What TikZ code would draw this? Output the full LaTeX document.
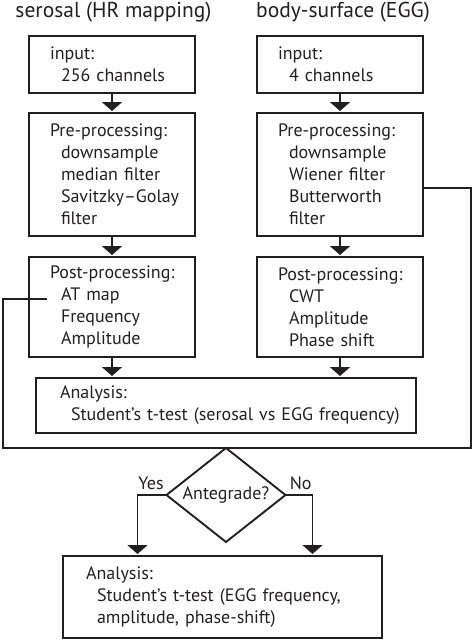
\documentclass[tikz,border=0pt]{standalone}
\usepackage{fontspec}
\setmainfont{PT Sans}
\usetikzlibrary{arrows.meta, positioning, shapes.geometric, calc}
\definecolor{ink}{HTML}{231F20}
\newcommand{\ttl}[1]{\mbox{#1}}
\newcommand{\itm}[1]{\hspace*{11pt}\mbox{#1}}
\tikzset{
  box/.style={
    draw=ink,
    line width=1.9pt,
    align=left,
    inner xsep=21pt,
    inner ysep=0pt,
    outer sep=0pt,
    text=ink,
    font=\fontsize{18}{22}\selectfont
  },
  col/.style={box, text width=124pt, minimum width=166pt},
  head/.style={text=ink, inner sep=0pt, font=\fontsize{21.5}{25}\selectfont},
  decision/.style={diamond, draw=ink, line width=1.9pt, aspect=1.27, outer sep=0pt,
    minimum width=119pt, minimum height=94pt, inner sep=0pt, text=ink,
    font=\fontsize{18}{22}\selectfont},
  lbl/.style={text=ink, inner sep=0pt, font=\fontsize{18}{22}\selectfont},
  arrow/.style={-{Triangle[width=20pt, length=9pt]}, line width=1.9pt, draw=ink, shorten >=2pt},
  link/.style={line width=1.9pt, draw=ink}
}

\begin{document}
\begin{tikzpicture}[x=1pt, y=1pt]
\useasboundingbox (0,0) rectangle (474,-641);

% two input columns
\node[col, minimum height=57pt] (sin) at (112,-64.5) {\ttl{input:}\\\itm{256 channels}};
\node[col, minimum height=57pt, right=62pt of sin] (rin) {\ttl{input:}\\\itm{4 channels}};

\node[head, above=14pt of sin, xshift=1.5pt] (shead) {serosal (HR mapping)};
\node[head, above=14pt of rin, xshift=3pt] (rhead) {body-surface (EGG)};

\node[col, minimum height=123pt, below=20pt of sin] (spre) {
  \ttl{Pre-processing:}\\
  \itm{downsample}\\
  \itm{median filter}\\
  \itm{Savitzky--Golay}\\
  \itm{filter}
};
\node[col, minimum height=123pt, below=20pt of rin] (rpre) {
  \ttl{Pre-processing:}\\
  \itm{downsample}\\
  \itm{Wiener filter}\\
  \itm{Butterworth}\\
  \itm{filter}
};

\node[col, minimum height=100pt, below=21pt of spre] (spost) {
  \ttl{Post-processing:}\\
  \itm{AT map}\\
  \itm{Frequency}\\
  \itm{Amplitude}
};
\node[col, minimum height=100pt, below=21pt of rpre] (rpost) {
  \ttl{Post-processing:}\\
  \itm{CWT}\\
  \itm{Amplitude}\\
  \itm{Phase shift}
};

% joint analysis and decision
\coordinate (mid) at ($(spost.south)!0.5!(rpost.south)$);
\node[box, text width=332pt, inner xsep=24pt, minimum height=55pt, below=21pt of mid] (ana) {
  \ttl{Analysis:}\\
  \itm{Student's t-test (serosal vs EGG frequency)}
};

\node[decision, below=15pt of ana] (dec) {Antegrade?};

\node[box, text width=273pt, inner xsep=23pt, minimum height=82pt, below=14pt of dec, xshift=-3.5pt] (res) {
  \ttl{Analysis:}\\
  \itm{Student's t-test (EGG frequency,}\\
  \itm{amplitude, phase-shift)}
};

\draw[arrow] (sin) -- (spre);
\draw[arrow] (rin) -- (rpre);
\draw[arrow] (spre) -- (spost);
\draw[arrow] (rpre) -- (rpost);
\draw[arrow] (spost.south) -- (spost.south |- ana.north);
\draw[arrow] (rpost.south) -- (rpost.south |- ana.north);

% feedback line from EGG pre-processing to AT map
\draw[link] ($(rpre.east)+(0,-13.5)$) -- ++(48,0) |- (dec.north)
  -| ($(spost.west)+(-26,8)$) -- ($(spost.west)+(18,8)$);

\draw[arrow] (dec.west) -- ++(-29,0) coordinate (yesc)
  node[lbl, anchor=base west, yshift=6pt] (yes) {Yes} -- (yesc |- res.north);
\draw[arrow] (dec.east) -- ++(27,0) coordinate (noc)
  node[lbl, anchor=base east, yshift=6pt] (no) {No} -- (noc |- res.north);

\end{tikzpicture}
\end{document}
